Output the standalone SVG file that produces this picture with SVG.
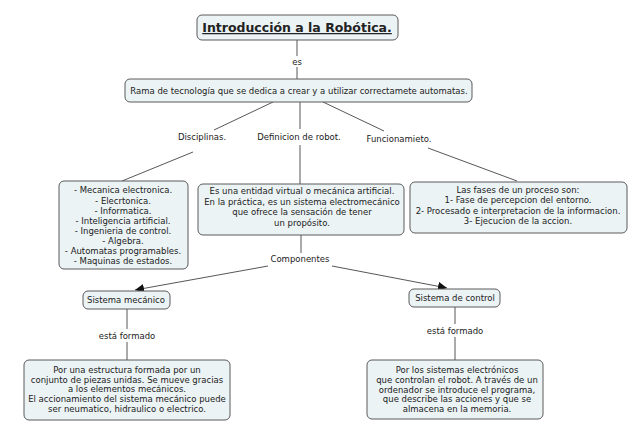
<svg xmlns="http://www.w3.org/2000/svg" width="640" height="441" viewBox="0 0 640 441">
<style>
.box{fill:#ebf3f5;stroke:#5a5a5a;stroke-width:1}
.t{font-family:"DejaVu Sans",Verdana,sans-serif;font-size:8.5px;fill:#222;text-anchor:middle}
.l{font-family:"DejaVu Sans",Verdana,sans-serif;font-size:8.5px;fill:#222;text-anchor:middle}
.c{stroke:#444;stroke-width:0.9;fill:none}
.title{font-family:"DejaVu Sans",Verdana,sans-serif;font-size:12.5px;font-weight:bold;fill:#222;text-anchor:middle;text-decoration:underline}
</style>
<defs>
<marker id="arr" viewBox="0 0 10 10" refX="10" refY="5" markerWidth="9" markerHeight="9" orient="auto" markerUnits="userSpaceOnUse">
<path d="M0,0 L10,5 L0,10 z" fill="#111"/>
</marker>
</defs>
<rect width="640" height="441" fill="#ffffff"/>
<g id="connectors">
<line class="c" x1="297" y1="40" x2="297" y2="56"/>
<line class="c" x1="297" y1="67" x2="297" y2="79"/>
<line class="c" x1="273" y1="102" x2="214" y2="130"/>
<line class="c" x1="193" y1="152" x2="122" y2="181"/>
<line class="c" x1="300" y1="102" x2="300" y2="129"/>
<line class="c" x1="300" y1="145" x2="300" y2="184"/>
<line class="c" x1="323" y1="102" x2="384" y2="131"/>
<line class="c" x1="428" y1="148" x2="517" y2="181"/>
<line class="c" x1="301" y1="235" x2="301" y2="253"/>
<line class="c" x1="268" y1="266" x2="135" y2="290" marker-end="url(#arr)"/>
<line class="c" x1="332" y1="266" x2="447" y2="288" marker-end="url(#arr)"/>
<line class="c" x1="127" y1="309" x2="127" y2="329"/>
<line class="c" x1="127" y1="342" x2="127" y2="360"/>
<line class="c" x1="455" y1="307" x2="455" y2="324"/>
<line class="c" x1="455" y1="337" x2="455" y2="360"/>
</g>
<g id="link-labels">
<text class="l" x="297" y="65">es</text>
<text class="l" x="202" y="140">Disciplinas.</text>
<text class="l" x="299" y="140">Definicion de robot.</text>
<text class="l" x="399" y="142">Funcionamieto.</text>
<text class="l" x="300" y="262">Componentes</text>
<text class="l" x="127" y="339">está formado</text>
<text class="l" x="455" y="334">está formado</text>
</g>
<g id="node-title">
<rect class="box" x="197" y="15" width="201" height="25" rx="5"/>
<text class="title" x="297" y="32">Introducción a la Robótica.</text>
</g>
<g id="node-rama">
<rect class="box" x="125" y="79" width="347" height="23" rx="5"/>
<text class="t" x="299" y="94">Rama de tecnología que se dedica a crear y a utilizar correctamete automatas.</text>
</g>
<g id="node-disciplinas">
<rect class="box" x="59" y="181" width="129" height="88" rx="5"/>
<text class="t" x="123" y="193">- Mecanica electronica.</text>
<text class="t" x="123" y="204">- Elecrtonica.</text>
<text class="t" x="123" y="214">- Informatica.</text>
<text class="t" x="123" y="224">- Inteligencia artificial.</text>
<text class="t" x="123" y="234">- Ingenieria de control.</text>
<text class="t" x="123" y="244">- Algebra.</text>
<text class="t" x="123" y="254">- Automatas programables.</text>
<text class="t" x="123" y="264">- Maquinas de estados.</text>
</g>
<g id="node-definicion">
<rect class="box" x="198" y="184" width="206" height="51" rx="5"/>
<text class="t" x="302" y="194">Es una entidad virtual o mecánica artificial.</text>
<text class="t" x="302" y="205">En la práctica, es un sistema electromecánico</text>
<text class="t" x="302" y="215">que ofrece la sensación de tener</text>
<text class="t" x="302" y="226">un propósito.</text>
</g>
<g id="node-funcionamiento">
<rect class="box" x="410" y="182" width="217" height="51" rx="5"/>
<text class="t" x="518" y="193">Las fases de un proceso son:</text>
<text class="t" x="518" y="203">1- Fase de percepcion del entorno.</text>
<text class="t" x="518" y="214">2- Procesado e interpretacion de la informacion.</text>
<text class="t" x="518" y="224">3- Ejecucion de la accion.</text>
</g>
<g id="node-mecanico">
<rect class="box" x="83" y="291" width="87" height="18" rx="5"/>
<text class="t" x="126" y="303">Sistema mecánico</text>
</g>
<g id="node-control">
<rect class="box" x="409" y="289" width="91" height="18" rx="5"/>
<text class="t" x="455" y="301">Sistema de control</text>
</g>
<g id="node-mecanico-desc">
<rect class="box" x="24" y="360" width="206" height="60" rx="5"/>
<text class="t" x="127" y="373">Por una estructura formada por un</text>
<text class="t" x="127" y="383">conjunto de piezas unidas. Se mueve gracias</text>
<text class="t" x="127" y="392">a los elementos mecánicos.</text>
<text class="t" x="127" y="402">El accionamiento del sistema mecánico puede</text>
<text class="t" x="127" y="412">ser neumatico, hidraulico o electrico.</text>
</g>
<g id="node-control-desc">
<rect class="box" x="367" y="360" width="176" height="59" rx="5"/>
<text class="t" x="457" y="373">Por los sistemas electrónicos</text>
<text class="t" x="457" y="383">que controlan el robot. A través de un</text>
<text class="t" x="457" y="393">ordenador se introduce el programa,</text>
<text class="t" x="457" y="402">que describe las acciones y que se</text>
<text class="t" x="457" y="412">almacena en la memoria.</text>
</g>
</svg>
